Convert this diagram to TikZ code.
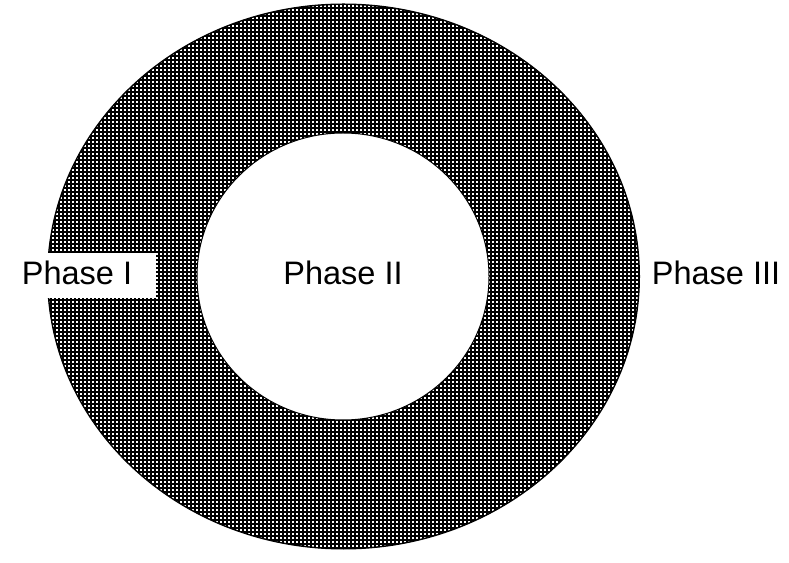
\documentclass[tikz,border=0pt]{standalone}
\usepackage{fontspec}
\setmainfont{Liberation Sans}
\usetikzlibrary{shapes.geometric}
\begin{document}
\begin{tikzpicture}[x=1pt,y=1pt,
  ring/.style={ellipse, inner sep=0pt, outer sep=0pt, draw=black, line width=1pt},
  dotrow/.style={white, line width=1.6pt, dash pattern=on 1.6pt off 2.4pt},
  label/.style={font=\fontsize{32.5}{38}\selectfont, inner sep=0pt, anchor=base}]
\useasboundingbox (0,0) rectangle (789,562);
\node[ring, minimum width=592pt, minimum height=545pt, fill=black]
      (outer) at (343.5,285.5) {};
\begin{scope}
  \clip (343.5,285.5) ellipse [x radius=295, y radius=271.5];
  \foreach \yy in {12,16,...,560}
    \draw[dotrow] (44,\yy) -- (644,\yy);
\end{scope}
\node[ring, fill=white, minimum width=292pt, minimum height=287pt]
      (inner) at (343,285.5) {};
\fill[white] (15,264) rectangle (156,309);
\node[label] (p1) at (77,277) {Phase I};
\node[label] (p2) at (343,277) {Phase II};
\node[label] (p3) at (716,277) {Phase III};
\end{tikzpicture}
\end{document}
